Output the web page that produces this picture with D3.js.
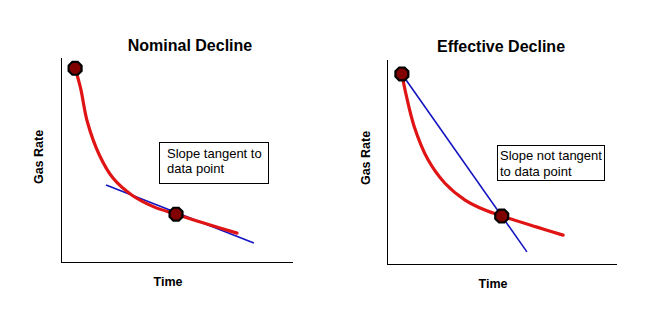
<!DOCTYPE html>
<html>
<head>
<meta charset="utf-8">
<script src="https://cdn.jsdelivr.net/npm/d3@7"></script>
<style>
  html, body { margin: 0; padding: 0; background: #fff; }
  svg { display: block; font-family: "Liberation Sans", Arial, sans-serif; }
</style>
</head>
<body>
<svg id="chart" width="651" height="321"></svg>
<script>
// ---- Data (arbitrary units, 0-100 on each axis) ----
const nominalCurveTime = [6.1, 8.5, 11.4, 16.6, 22.6, 30.6, 40.0, 49.8, 63.2, 76.2];
const nominalCurveRate = [94.5, 84.7, 68.4, 52.2, 40.8, 32.7, 27.0, 23.3, 18.5, 14.1];
const nominalPointTime = [6.1, 49.8];
const nominalPointRate = [94.5, 23.3];
const nominalLineTime = [19.5, 83.5];
const nominalLineRate = [37.6, 9.3];

const effectiveCurveTime = [6.5, 8.2, 11.9, 18.0, 25.3, 34.1, 42.8, 50.1, 65.5, 76.9];
const effectiveCurveRate = [92.7, 83.3, 67.0, 50.7, 39.4, 31.2, 26.3, 23.4, 18.0, 14.1];
const effectivePointTime = [6.5, 50.1];
const effectivePointRate = [92.7, 23.4];
const effectiveLineTime = [6.5, 61.1];
const effectiveLineRate = [92.7, 5.9];

const titles = ["Nominal Decline", "Effective Decline"];
const xLabel = "Time";
const yLabel = "Gas Rate";
const notes = [["Slope tangent to", "data point"], ["Slope not tangent", "to data point"]];

// ---- Layout ----
const panels = [
  { x0: 61, x1: 292, y0: 262, y1: 57, titleX: 190, titleY: 51, timeX: 168, timeY: 286, rateX: 43, rateY: 157,
    box: { x: 159, y: 142, w: 109, h: 41, padX: 8, line1: 16, lineH: 15 },
    curveT: nominalCurveTime, curveQ: nominalCurveRate, ptT: nominalPointTime, ptQ: nominalPointRate,
    lnT: nominalLineTime, lnQ: nominalLineRate },
  { x0: 387, x1: 616, y0: 264, y1: 59, titleX: 501, titleY: 52, timeX: 493, timeY: 288, rateX: 370, rateY: 158,
    box: { x: 497, y: 145, w: 107, h: 35, padX: 3, line1: 15, lineH: 16 },
    curveT: effectiveCurveTime, curveQ: effectiveCurveRate, ptT: effectivePointTime, ptQ: effectivePointRate,
    lnT: effectiveLineTime, lnQ: effectiveLineRate }
];

const svg = d3.select("#chart");
svg.append("rect").attr("width", 651).attr("height", 321).attr("fill", "#fff");

function octagon(r) {
  const pts = d3.range(8).map(i => {
    const a = Math.PI / 8 + i * Math.PI / 4;
    return [r * Math.cos(a), r * Math.sin(a)];
  });
  return d3.line()(pts) + "Z";
}

panels.forEach((p, i) => {
  const x = d3.scaleLinear().domain([0, 100]).range([p.x0, p.x1]);
  const y = d3.scaleLinear().domain([0, 100]).range([p.y0, p.y1]);
  const g = svg.append("g");

  // axes (no ticks)
  const ax = g.append("g").attr("transform", `translate(0,${p.y0})`)
    .call(d3.axisBottom(x).tickValues([]).tickSizeOuter(0));
  const ay = g.append("g").attr("transform", `translate(${p.x0},0)`)
    .call(d3.axisLeft(y).tickValues([]).tickSizeOuter(0));
  [ax, ay].forEach(a => a.select(".domain").attr("stroke", "#000").attr("stroke-width", 1).attr("shape-rendering", "crispEdges"));

  // titles and labels
  g.append("text").attr("x", p.titleX).attr("y", p.titleY).attr("text-anchor", "middle")
    .attr("font-size", 16).attr("font-weight", "bold").text(titles[i]);
  g.append("text").attr("x", p.timeX).attr("y", p.timeY).attr("text-anchor", "middle")
    .attr("font-size", 12.5).attr("font-weight", "bold").text(xLabel);
  g.append("text").attr("transform", `translate(${p.rateX},${p.rateY}) rotate(-90)`)
    .attr("text-anchor", "middle").attr("font-size", 12.5).attr("font-weight", "bold").text(yLabel);

  // blue slope line
  const lnData = p.lnT.map((t, k) => [t, p.lnQ[k]]);
  g.append("path").datum(lnData)
    .attr("d", d3.line().x(d => x(d[0])).y(d => y(d[1])))
    .attr("fill", "none").attr("stroke", "#1414c0").attr("stroke-width", 1.6);

  // red decline curve
  const cData = p.curveT.map((t, k) => [t, p.curveQ[k]]);
  g.append("path").datum(cData)
    .attr("d", d3.line().x(d => x(d[0])).y(d => y(d[1])).curve(d3.curveCatmullRom.alpha(0.5)))
    .attr("fill", "none").attr("stroke", "#e01414").attr("stroke-width", 3.2)
    .attr("stroke-linecap", "round");

  // data points
  const ptData = p.ptT.map((t, k) => [t, p.ptQ[k]]);
  g.selectAll(".pt").data(ptData).join("path").attr("class", "pt")
    .attr("transform", d => `translate(${x(d[0])},${y(d[1])})`)
    .attr("d", octagon(7))
    .attr("fill", "#800000").attr("stroke", "#000").attr("stroke-width", 2.2);

  // annotation box
  const b = p.box;
  g.append("rect").attr("x", b.x + 0.5).attr("y", b.y + 0.5).attr("width", b.w).attr("height", b.h)
    .attr("fill", "#fff").attr("stroke", "#000").attr("stroke-width", 1);
  notes[i].forEach((line, k) => {
    g.append("text").attr("x", b.x + b.padX).attr("y", b.y + b.line1 + k * b.lineH)
      .attr("font-size", 13).attr("fill", "#000").text(line);
  });
});
</script>
</body>
</html>
